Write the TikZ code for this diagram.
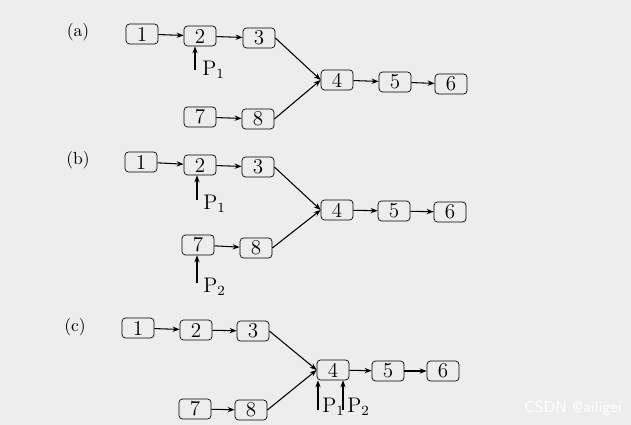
\documentclass[tikz,border=0pt]{standalone}
\usetikzlibrary{arrows.meta}
\begin{document}
\begin{tikzpicture}[x=0.02cm,y=-0.02cm,
  bx/.style={draw,rounded corners=2pt,minimum width=0.64cm,minimum height=0.4cm,inner sep=0pt,font=\large},
  ar/.style={-{Stealth[length=4pt,width=3pt]},semithick},
  lb/.style={font=\large,anchor=west,inner sep=0pt}]
\fill[black!7] (0,0) rectangle (631,425);
\useasboundingbox (0,0) rectangle (631,425);
% (a)
\node[font=\normalsize] (la) at (78,32) {(a)};
\node[bx] (a1) at (142,34) {1};
\node[bx] (a2) at (200,36) {2};
\node[bx] (a3) at (259,38) {3};
\node[bx] (a7) at (200,117) {7};
\node[bx] (a8) at (258,119) {8};
\node[bx] (a4) at (337,80) {4};
\node[bx] (a5) at (395,82) {5};
\node[bx] (a6) at (451,84) {6};
\draw[ar] (a1) -- (a2); \draw[ar] (a2) -- (a3);
\draw[ar] (a7) -- (a8);
\draw[ar] (a3.east) -- (a4.west); \draw[ar] (a8.east) -- (a4.west);
\draw[ar] (a4) -- (a5); \draw[ar] (a5) -- (a6);
\coordinate (ap1) at (195,70);
\draw[ar] (ap1) -- (a2.south west -| ap1);
\node[lb] (tp1) at (202,70) {P$_1$};
% (b)
\node[font=\normalsize] (lbb) at (78,160) {(b)};
\node[bx] (b1) at (141,162) {1};
\node[bx] (b2) at (200,165) {2};
\node[bx] (b3) at (258,167) {3};
\node[bx] (b4) at (337,210) {4};
\node[bx] (b5) at (394,211) {5};
\node[bx] (b6) at (450,212) {6};
\node[bx] (b7) at (198,245) {7};
\node[bx] (b8) at (256,248) {8};
\draw[ar] (b1) -- (b2); \draw[ar] (b2) -- (b3);
\draw[ar] (b7) -- (b8);
\draw[ar] (b3.east) -- (b4.west); \draw[ar] (b8.east) -- (b4.west);
\draw[ar] (b4) -- (b5); \draw[ar] (b5) -- (b6);
\coordinate (bp1) at (197,200);
\draw[ar] (bp1) -- (b2.south west -| bp1);
\node[lb] (tbp1) at (203,204) {P$_1$};
\coordinate (bp2) at (197,283);
\draw[ar] (bp2) -- (b7.south west -| bp2);
\node[lb] (tbp2) at (203,287) {P$_2$};
% (c)
\node[font=\normalsize] (lc) at (75,327) {(c)};
\node[bx] (c1) at (138,328) {1};
\node[bx] (c2) at (196,330) {2};
\node[bx] (c3) at (253,331) {3};
\node[bx] (c4) at (333,370) {4};
\node[bx] (c5) at (388,371) {5};
\node[bx] (c6) at (443,371) {6};
\node[bx] (c7) at (195,409) {7};
\node[bx] (c8) at (251,410) {8};
\draw[ar] (c1) -- (c2); \draw[ar] (c2) -- (c3);
\draw[ar] (c7) -- (c8);
\draw[ar] (c3.east) -- (c4.west); \draw[ar] (c8.east) -- (c4.west);
\draw[ar] (c4) -- (c5); \draw[ar] (c5) -- (c6);
\coordinate (cp1) at (318,410);
\draw[ar] (cp1) -- (c4.south west -| cp1);
\node[lb] (tcp1) at (322,407) {P$_1$};
\coordinate (cp2) at (343,410);
\draw[ar] (cp2) -- (c4.south west -| cp2);
\node[lb] (tcp2) at (347,407) {P$_2$};
\node[text=white,font=\sffamily\small,anchor=east] (wm) at (628,408) {CSDN @ailigei};
\end{tikzpicture}
\end{document}
